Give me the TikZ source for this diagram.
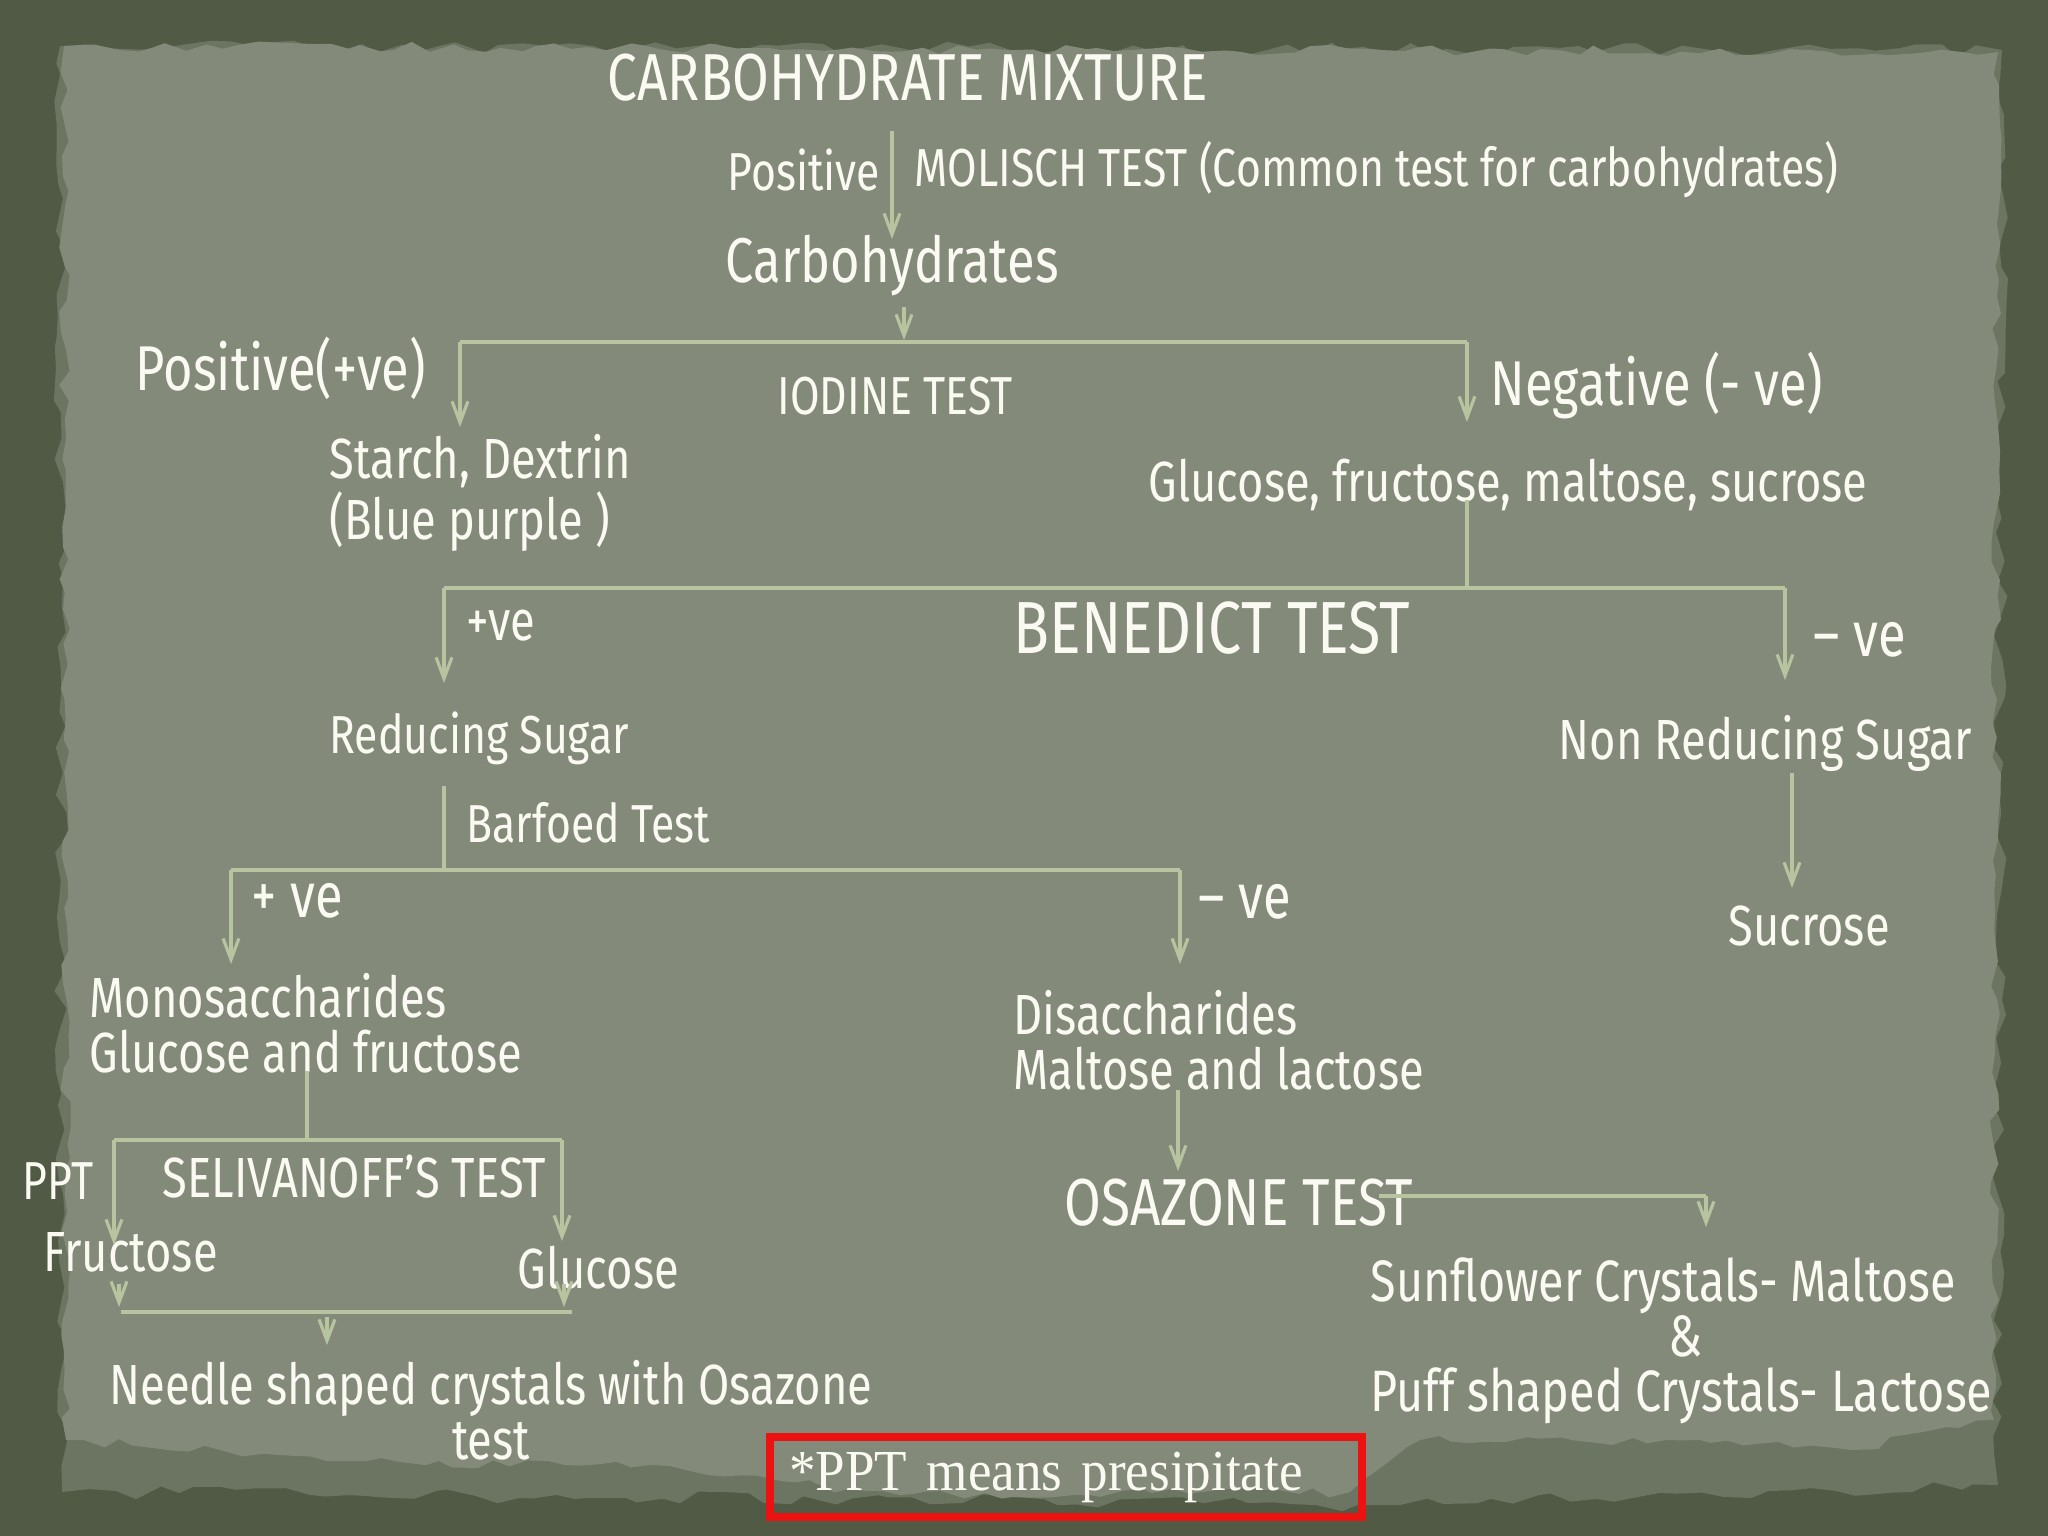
\documentclass[tikz,border=0pt]{standalone}
\usepackage{fontspec}
\setmainfont[FakeStretch=0.8]{Fira Sans}
\newfontfamily\notefont[FakeStretch=0.915]{Liberation Serif}
\usetikzlibrary{arrows.meta,decorations.pathmorphing}
\definecolor{bg_dark}{RGB}{80,90,68}
\definecolor{bg_stain}{RGB}{108,116,98}
\definecolor{paper_gray}{RGB}{132,138,122}
\definecolor{edge_green}{RGB}{184,195,160}
\definecolor{txt_white}{RGB}{250,250,242}
\definecolor{box_red}{RGB}{236,18,18}

\begin{document}
\begin{tikzpicture}[x=0.01cm,y=-0.01cm,>={Straight Barb[length=6pt,width=4.5pt]}]
    \tikzstyle{lbl}=[text=txt_white, inner sep=0pt, anchor=west]
    \tikzstyle{sm}=[style=lbl, font=\fontsize{15.2}{15.6}\selectfont]
    \tikzstyle{md}=[style=lbl, font=\fontsize{16.1}{15.6}\selectfont]
    \tikzstyle{lg}=[style=lbl, font=\fontsize{18}{19}\selectfont]
    \tikzstyle{hd}=[style=lbl, font=\fontsize{18.9}{20}\selectfont]
    \tikzstyle{wire}=[draw=edge_green, line width=0.9pt]

    % torn paper background
    \useasboundingbox (0,0) rectangle (2048,1536);
    \fill[bg_dark] (0,0) rectangle (2048,1536);
    \pgfmathsetseed{11}
    \fill[bg_stain, decorate, decoration={random steps,segment length=6pt,amplitude=2pt}]
      (60,46) -- (2002,50) -- (1998,1485) -- (1400,1505) -- (62,1492) -- cycle;
    \fill[paper_gray, decorate, decoration={random steps,segment length=5pt,amplitude=1.5pt}]
      (64,46) -- (1998,52) -- (1994,1420) -- (1850,1450) -- (1700,1440) -- (1420,1440)
      -- (1350,1492) -- (900,1495) -- (650,1465) -- (400,1462) -- (66,1440) -- cycle;

    \node[hd] (mix)      at (607,78)    {CARBOHYDRATE MIXTURE};
    \node[sm] (pos)      at (727,170)   {Positive};
    \node[sm] (molisch)  at (914,170)   {MOLISCH TEST (Common test for carbohydrates)};
    \node[lg] (carb)     at (725,265)   {Carbohydrates};
    \node[lg] (iodpos)   at (135,368)   {Positive(+ve)};
    \node[sm] (iodine)   at (777,396)   {IODINE TEST};
    \node[lg] (iodneg)   at (1490,385)  {Negative (- ve)};
    \node[md, align=left] (starch) at (329,493) {Starch, Dextrin\\(Blue purple )};
    \node[md] (sugars)   at (1148,485)  {Glucose, fructose, maltose, sucrose};
    \node[md] (benpos)   at (466,626)   {+ve};
    \node[lbl, font=\fontsize{21}{22}\selectfont] (benedict) at (1013,628) {BENEDICT TEST};
    \node[lg] (benneg)   at (1813,640)  {– ve};
    \node[sm] (reducing) at (329,738)   {Reducing Sugar};
    \node[md] (nonred)   at (1558,743)  {Non Reducing Sugar};
    \node[sm] (barfoed)  at (466,823)   {Barfoed Test};
    \node[lg] (barpos)   at (251,901)   {+ ve};
    \node[lg] (barneg)   at (1198,902)  {– ve};
    \node[md] (sucrose)  at (1728,926)  {Sucrose};
    \node[md, align=left] (mono) at (89,1023) {Monosaccharides\\Glucose and fructose};
    \node[md, align=left] (di)   at (1013,1040) {Disaccharides\\Maltose and lactose};
    \node[hd] (osazone)  at (1064,1203) {OSAZONE TEST};
    \node[lbl, align=left, font=\fontsize{16.6}{15.6}\selectfont] (crystals) at (1370,1341)
      {Sunflower Crystals- Maltose\\\hspace*{2.98cm}\&\\Puff shaped Crystals- Lactose};
    \node[sm] (ppt)      at (22,1181)   {PPT};
    \node[md] (selivan)  at (162,1177)  {SELIVANOFF’S TEST};
    \node[md] (fructose) at (43,1252)   {Fructose};
    \node[md] (glucose)  at (517,1268)  {Glucose};
    \node[md, align=center, anchor=center] (needle) at (491,1410)
      {Needle shaped crystals with Osazone\\test};
    \node[draw=box_red, line width=2.3pt, minimum height=0.8cm, text width=5.53cm,
          align=left, inner xsep=0.195cm, inner ysep=0pt, text=txt_white,
          font=\notefont\fontsize{16.5}{18}\selectfont] (note) at (1066,1477) {*PPT means presipitate};

    % junction points of the connectors
    \coordinate (molTop)  at (892,131);  \coordinate (molEnd)  at (892,239);
    \coordinate (iodTop)  at (904,307);  \coordinate (iodMid)  at (904,340);
    \coordinate (iodL)    at (460,342);  \coordinate (iodR)    at (1467,342);
    \coordinate (iodLend) at (460,427);  \coordinate (iodRend) at (1467,422);
    \coordinate (benTop)  at (1467,500); \coordinate (benL)    at (444,588);
    \coordinate (benR)    at (1785,588);
    \coordinate (benLend) at (444,683);  \coordinate (benRend) at (1785,680);
    \coordinate (barTop)  at (444,786);  \coordinate (barL)    at (231,870);
    \coordinate (barR)    at (1180,870);
    \coordinate (barLend) at (231,964);  \coordinate (barRend) at (1180,964);
    \coordinate (sucTop)  at (1792,773); \coordinate (sucEnd)  at (1792,888);
    \coordinate (osaTop)  at (1178,1090);\coordinate (osaEnd)  at (1178,1171);
    \coordinate (crysL)   at (1379,1196);\coordinate (crysR)   at (1706,1196);
    \coordinate (crysEnd) at (1706,1227);
    \coordinate (selTop)  at (307,1071); \coordinate (selL)    at (114,1140);
    \coordinate (selR)    at (562,1140);
    \coordinate (selLend) at (114,1245); \coordinate (selRend) at (562,1241);
    \coordinate (fruTop)  at (119,1284); \coordinate (fruEnd)  at (119,1307);
    \coordinate (gluTop)  at (564,1284); \coordinate (gluEnd)  at (564,1307);
    \coordinate (ndlL)    at (121,1312); \coordinate (ndlR)    at (572,1312);
    \coordinate (ndlTop)  at (327,1317); \coordinate (ndlEnd)  at (327,1345);

    \path[wire]
     (molTop) edge[->] (molEnd)
     (iodTop) edge[->] (iodMid)
     (iodL) edge (iodR)
     (iodL) edge[->] (iodLend)
     (iodR) edge[->] (iodRend)
     (benTop) edge (benTop |- benL)
     (benL) edge (benR)
     (benL) edge[->] (benLend)
     (benR) edge[->] (benRend)
     (barTop) edge (barTop |- barL)
     (barL) edge (barR)
     (barL) edge[->] (barLend)
     (barR) edge[->] (barRend)
     (sucTop) edge[->] (sucEnd)
     (osaTop) edge[->] (osaEnd)
     (crysL) edge (crysR)
     (crysR) edge[->] (crysEnd)
     (selTop) edge (selTop |- selL)
     (selL) edge (selR)
     (selL) edge[->] (selLend)
     (selR) edge[->] (selRend)
     (fruTop) edge[->] (fruEnd)
     (gluTop) edge[->] (gluEnd)
     (ndlL) edge (ndlR)
     (ndlTop) edge[->] (ndlEnd)
     ;
\end{tikzpicture}
\end{document}
